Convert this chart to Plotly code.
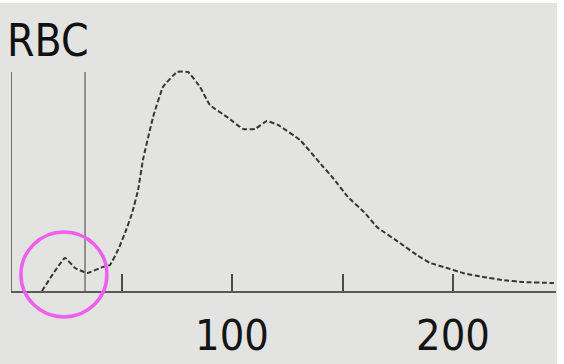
import plotly.graph_objects as go

# Histogram curve (fL vs relative count)
size_fl = [14.0, 24.4, 29.0, 34.4, 41.6, 44.8, 48.4, 51.6, 54.8, 57.5, 59.7, 64.3, 68.8,
           75.1, 80.1, 85.5, 90.0, 97.7, 105.0, 110.4, 115.8, 120.8, 130.8, 139.8, 145.7,
           152.5, 160.2, 165.6, 176.0, 183.7, 189.6, 197.3, 204.5, 213.6, 222.6, 231.7, 243.9, 246.6]
count = [0.0, 15.1, 10.5, 8.2, 11.0, 11.9, 18.7, 26.5, 35.6, 46.1, 59.8, 79.5, 93.2,
         100.0, 100.0, 93.2, 84.9, 79.5, 74.0, 74.0, 77.6, 75.8, 68.9, 58.4, 51.6,
         42.9, 35.6, 29.2, 21.9, 16.4, 12.8, 10.5, 8.2, 6.4, 5.0, 4.1, 3.7, 3.6]

tick_vals = [50, 100, 150, 200]
tick_text = ["", "100", "", "200"]
discriminator = 33.5
axis_top = 100
title = "RBC"

W, H = 564, 364
ML, MR, MT, MB = 11, 8, 10, 73
PW, PH = W - ML - MR, H - MT - MB
X_RANGE = [0, 246.6]
Y_RANGE = [0, 128.3]

def to_paper(x, y):
    px = (x - X_RANGE[0]) / (X_RANGE[1] - X_RANGE[0])
    py = (y - Y_RANGE[0]) / (Y_RANGE[1] - Y_RANGE[0])
    return px, py

# highlight circle (in data units), converted to paper coordinates to avoid clipping
cx0, cy0 = to_paper(4.5, -11.9)
cx1, cy1 = to_paper(43.4, 26.9)

fig = go.Figure()
fig.add_trace(go.Scatter(
    x=size_fl, y=count, mode="lines",
    line=dict(color="#363636", width=2, dash="5px,2.5px", shape="spline", smoothing=0.3),
    hoverinfo="skip", showlegend=False,
))

font_fam = "DejaVu Sans Condensed, Liberation Sans, Arial, sans-serif"

fig.update_layout(
    width=W, height=H,
    margin=dict(l=ML, r=MR, t=MT, b=MB, autoexpand=False),
    paper_bgcolor="#ffffff",
    plot_bgcolor="rgba(0,0,0,0)",
    xaxis=dict(range=X_RANGE, showgrid=False, zeroline=False, automargin=False,
               showline=True, linecolor="#5a5a5a", linewidth=1.5,
               ticks="inside", ticklen=17, tickwidth=1.5, tickcolor="#4a4a4a",
               tickvals=tick_vals, ticktext=tick_text,
               tickfont=dict(family=font_fam, size=43, color="#151515"),
               ticklabelstandoff=6),
    yaxis=dict(range=Y_RANGE, visible=False, automargin=False),
    shapes=[
        dict(type="rect", xref="paper", yref="paper", layer="below",
             x0=-ML / PW, x1=(557 - ML) / PW,
             y0=-MB / PH, y1=1 + (MT - 3) / PH,
             fillcolor="#e3e4e2", line=dict(width=0)),
        dict(type="line", xref="x", yref="y", x0=0, x1=0, y0=0, y1=axis_top,
             line=dict(color="#4a4a4a", width=1.5)),
        dict(type="line", xref="x", yref="y", x0=discriminator, x1=discriminator, y0=0, y1=axis_top,
             line=dict(color="#5a5a5a", width=1.2)),
        dict(type="circle", xref="paper", yref="paper", x0=cx0, x1=cx1, y0=cy0, y1=cy1,
             line=dict(color="#ee5fee", width=3.5)),
    ],
    annotations=[
        dict(text=title, xref="paper", yref="paper",
             x=(5 - ML) / PW, y=1 - (40 - MT) / PH,
             xanchor="left", yanchor="middle", showarrow=False,
             font=dict(family=font_fam, size=44, color="#111111")),
    ],
)

fig.write_html("out.html")
